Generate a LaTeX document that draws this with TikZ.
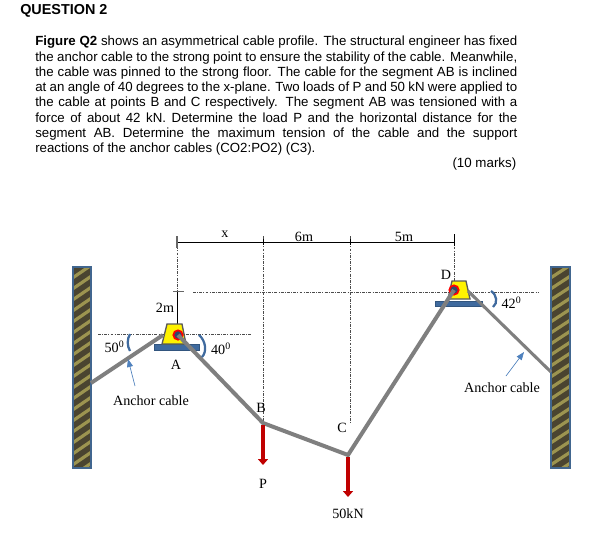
\documentclass[tikz,border=0pt]{standalone}
\usepackage{fontspec}
\setmainfont{Liberation Sans}
\newfontfamily\serifface{Liberation Serif}
\usetikzlibrary{arrows.meta}
\definecolor{plateblue}{HTML}{3F6A9E}
\definecolor{wallblue}{HTML}{41668F}
\definecolor{walldark}{HTML}{4A4430}
\definecolor{wallstripe}{HTML}{9C9450}
\definecolor{arrowblue}{HTML}{4F81BD}
\definecolor{cablegray}{HTML}{7F7F7F}
\definecolor{loadred}{HTML}{C00000}
\tikzset{
  cable/.style={draw=cablegray,line width=3pt},
  rightcable/.style={draw=cablegray,line width=2.3pt},
  centre/.style={draw=black!70,line width=0.6pt,dash pattern=on 2.2pt off 0.9pt on 0.7pt off 0.9pt},
  dim/.style={draw=black,line width=0.6pt},
  dimtick/.style={draw=black!60,line width=0.8pt},
  load/.style={draw=loadred,line width=2.5pt,-{Triangle[length=4.5pt,width=7.5pt]}},
  pointer/.style={draw=arrowblue,line width=0.5pt,-{Triangle[length=6pt,width=4.5pt]}},
  anglearc/.style={draw=plateblue,line width=1.7pt},
  lab/.style={font=\serifface\fontsize{10.6}{12}\selectfont,inner sep=0pt,text=black},
  plate/.style={fill=plateblue,draw=plateblue!80!black,line width=0.5pt},
  anchorblock/.style={fill=yellow,draw=black!65,line width=1pt,line join=miter},
  pin/.style={circle,fill=plateblue!70!black,draw=red,line width=1.3pt,minimum size=7pt,inner sep=0pt}
}
\newcommand{\hatchwall}[2]{%
  \begin{scope}
    \clip (#1,267) rectangle (#2,468);
    \fill[walldark] (#1,267) rectangle (#2,468);
    \foreach \k in {0,...,20}{
      \draw[wallstripe,line width=2.4pt] (#1-2,{268+11*\k}) -- (#2+2,{268+11*\k-15});
    }
  \end{scope}
  \draw[wallblue,line width=1.8pt] (#1,267) rectangle (#2,468);
}
\begin{document}
\begin{tikzpicture}[x=0.75pt,y=-0.75pt]
\useasboundingbox (0,0) rectangle (602,532);
% text
\node[anchor=west,inner sep=0pt,font=\bfseries\fontsize{10.8}{12}\selectfont] (title) at (20,11) {QUESTION 2};
\node[anchor=north west,inner sep=0pt,text width=361.5pt,align=justify,font=\fontsize{9.95}{11.45}\selectfont] (body) at (35,36) {%
\textbf{Figure Q2} shows an asymmetrical cable profile. The structural engineer has fixed\linebreak
the anchor cable to the strong point to ensure the stability of the cable. Meanwhile,\linebreak
the cable was pinned to the strong floor. The cable for the segment AB is inclined\linebreak
at an angle of 40 degrees to the x-plane. Two loads of P and 50 kN were applied to\linebreak
the cable at points B and C respectively. The segment AB was tensioned with a\linebreak
force of about 42 kN. Determine the load P and the horizontal distance for the\linebreak
segment AB. Determine the maximum tension of the cable and the support\linebreak
reactions of the anchor cables (CO2:PO2) (C3).};
\node[anchor=east,inner sep=0pt,font=\fontsize{10}{11}\selectfont] (marks) at (516.5,164.5) {(10 marks)};
% walls
\hatchwall{73}{91}
\hatchwall{551}{570}
% named points
\coordinate (A) at (178,335);
\coordinate (B) at (263,423);
\coordinate (C) at (348,455);
\coordinate (D) at (454,290);
\coordinate (leftwall) at (91,383);
\coordinate (leftblock) at (163,335);
\coordinate (rightwall) at (551,372);
\coordinate (rightblock) at (468,291);
% centre lines
\coordinate (tA) at (177,240); \coordinate (mA) at (177,292);
\coordinate (t1) at (263,236); \coordinate (b1) at (263,423);
\coordinate (t2) at (350,236); \coordinate (b2) at (350,423);
\coordinate (t3) at (454,234); \coordinate (b3) at (454,290);
\coordinate (h1l) at (193,292); \coordinate (h1r) at (539,292);
\coordinate (h2l) at (98,334); \coordinate (h2r) at (252,334);
\draw[centre] (tA) -- (mA);
\draw[centre] (t1) -- (b1);
\draw[centre] (t2) -- (b2);
\draw[centre] (t3) -- (b3);
\draw[centre] (h1l) -- (h1r);
\draw[centre] (h2l) -- (h2r);
% dimensions
\coordinate (d0) at (177,242); \coordinate (d1) at (263,242); \coordinate (d2) at (350,242); \coordinate (d3) at (454,242);
\draw[dim] (d0) -- (d3);
\draw[dimtick] (177,236) -- (177,248);
\draw[dim] (263,239) -- (263,245);
\draw[dim] (350,239) -- (350,245);
\draw[dim] (454,234) -- (454,246);
\coordinate (m2a) at (173,291.5); \coordinate (m2b) at (184,291.5); \coordinate (m2c) at (177.5,291.5); \coordinate (m2d) at (177.5,325);
\draw[dimtick] (m2a) -- (m2b);
\draw[dim] (m2c) -- (m2d);
% anchor A
\draw[plate] (154,344.5) rectangle (199,350);
\draw[anchorblock] (162,344) -- (167,324) -- (182,324) -- (186,344) -- cycle;
\node[pin] (pinA) at (A) {};
% anchor D
\draw[plate] (435,301) rectangle (482,306);
\draw[anchorblock] (448,299) -- (452,281) -- (466,281) -- (470,299) -- cycle;
\node[pin] (pinD) at (D) {};
% cable
\draw[cable,line join=miter] (A) -- (B) -- (C) -- (D);
\draw[cable] (leftwall) -- (leftblock);
\draw[rightcable] (rightblock) -- (rightwall);
% loads
\coordinate (Pend) at (263,465); \coordinate (Qend) at (348,497);
\draw[load] (B) ++(0,2) -- (Pend);
\draw[load] (C) ++(0,2) -- (Qend);
% angle arcs
\draw[anglearc] (130,334) .. controls (127,339) and (127,346) .. (130,351);
\draw[anglearc] (199,335) .. controls (206,341) and (207,352) .. (202,357);
\draw[anglearc] (491,291) .. controls (497,295) and (498,303) .. (493,307);
% pointers
\coordinate (p1s) at (135,386); \coordinate (p1e) at (128,359);
\coordinate (p2s) at (506,376); \coordinate (p2e) at (524,352);
\draw[pointer] (p1s) -- (p1e);
\draw[pointer] (p2s) -- (p2e);
% labels
\node[lab] (lx) at (225,234.5) {x};
\node[lab] (l6) at (304,236.5) {6m};
\node[lab] (l5) at (404,236.5) {5m};
\node[lab] (lD) at (446,275) {D};
\node[lab] (l2) at (165,308) {2m};
\node[lab] (l50) at (114.5,347) {50\textsuperscript{0}};
\node[lab] (l40) at (221,349) {40\textsuperscript{0}};
\node[lab] (l42) at (511.5,303) {42\textsuperscript{0}};
\node[lab] (lA) at (176,365) {A};
\node[lab] (lB) at (261,408) {B};
\node[lab] (lC) at (342,428) {C};
\node[lab] (lP) at (263,484) {P};
\node[lab] (lQ) at (348,514) {50kN};
\node[lab] (ac1) at (151,401) {Anchor cable};
\node[lab] (ac2) at (502,388) {Anchor cable};
\end{tikzpicture}
\end{document}
